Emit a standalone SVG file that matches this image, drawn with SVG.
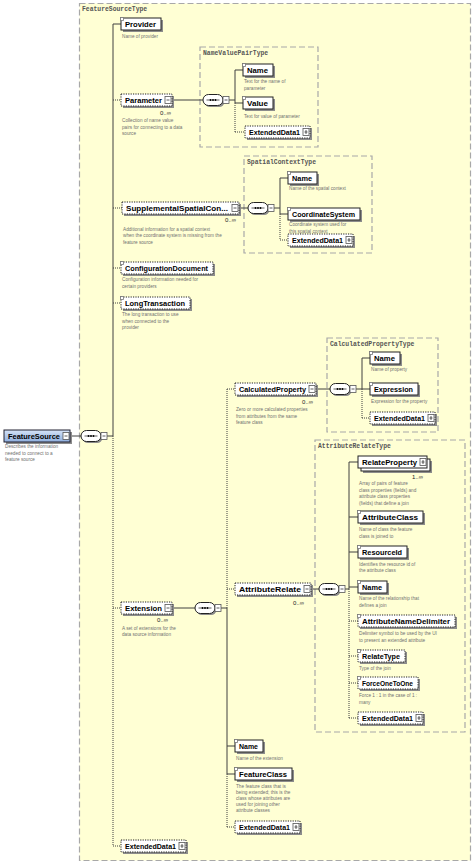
<svg xmlns="http://www.w3.org/2000/svg" xmlns:xlink="http://www.w3.org/1999/xlink" width="474" height="863" viewBox="0 0 474 863">
<style>
.t{fill:#FFFFD4;stroke:#A8A8A8;stroke-width:1.2;stroke-dasharray:6 3}
.t2{fill:none;stroke:#A8A8A8;stroke-width:1.2;stroke-dasharray:6 3}
.tl{font-family:"Liberation Mono",monospace;font-size:6.4px;fill:#555;font-weight:bold}
.sh{fill:#8c8c8c}
.b{fill:#fff;stroke:#222;stroke-width:1}
.o{fill:#fff;stroke:#222;stroke-width:1;stroke-dasharray:1.2 1.2}
.n{font-family:"Liberation Sans",Arial,sans-serif;font-size:7px;font-weight:bold;fill:#000}
.d{font-family:"Liberation Sans",Arial,sans-serif;font-size:4.7px;fill:#707070}
.m{font-family:"Liberation Sans",Arial,sans-serif;font-size:6px;fill:#222}
.ln{stroke:#404040;stroke-width:1;fill:none}
.dt{stroke:#404040;stroke-width:1;fill:none;stroke-dasharray:1 1}
.pm{fill:#fff;stroke:#555;stroke-width:0.8}
.pl{stroke:#333;stroke-width:0.8}
.ic{fill:#fff;stroke:#777;stroke-width:0.8}
</style>
<defs>
<linearGradient id="blue" x1="0" y1="0" x2="0" y2="1">
<stop offset="0" stop-color="#D6E4F8"/>
<stop offset="1" stop-color="#8EAEDD"/>
</linearGradient>
<g id="seq">
<rect x="1.5" y="-4" width="20" height="11" rx="5.5" class="sh"/>
<rect x="0" y="-5.5" width="20" height="11" rx="5.5" class="b"/>
<line x1="3.5" y1="0" x2="16.5" y2="0" class="pl"/>
<circle cx="7.5" cy="0" r="0.9" fill="#000"/>
<circle cx="10" cy="0" r="0.9" fill="#000"/>
<circle cx="12.5" cy="0" r="0.9" fill="#000"/>
<rect x="20" y="-3.5" width="6" height="7" class="pm"/>
<line x1="21.5" y1="0" x2="24.5" y2="0" class="pl"/>
</g>
<g id="mi">
<rect x="0" y="-3.5" width="6" height="7" class="pm"/>
<line x1="1.5" y1="0" x2="4.5" y2="0" class="pl"/>
</g>
<g id="pl">
<rect x="0" y="-3.5" width="6" height="7" class="pm"/>
<line x1="1.5" y1="0" x2="4.5" y2="0" class="pl"/>
<line x1="3" y1="-2" x2="3" y2="2" class="pl"/>
</g>
<g id="ic">
<rect x="0" y="0" width="3" height="3" class="ic"/>
</g>
</defs>

<g id="types">
<rect class="t" x="79.5" y="3.5" width="391" height="857"/>
<text class="tl" x="82" y="11">FeatureSourceType</text>
<rect class="t2" x="200" y="47" width="118" height="100"/>
<text class="tl" x="203" y="55">NameValuePairType</text>
<rect class="t2" x="244" y="156" width="128" height="97"/>
<text class="tl" x="247" y="164">SpatialContextType</text>
<rect class="t2" x="327" y="338" width="111" height="94"/>
<text class="tl" x="330" y="346">CalculatedPropertyType</text>
<rect class="t2" x="315" y="440" width="150" height="292"/>
<text class="tl" x="318" y="448">AttributeRelateType</text>
</g>

<g id="connectors">
<line class="ln" x1="70" y1="436" x2="81" y2="436"/>
<line class="ln" x1="107" y1="436" x2="113" y2="436"/>
<line class="ln" x1="113" y1="24" x2="113" y2="436"/>
<line class="dt" x1="113" y1="436" x2="113" y2="846"/>
<line class="ln" x1="113" y1="24" x2="121" y2="24"/>
<line class="dt" x1="113" y1="100" x2="121" y2="100"/>
<line class="dt" x1="113" y1="208" x2="122" y2="208"/>
<line class="dt" x1="113" y1="268" x2="121" y2="268"/>
<line class="dt" x1="113" y1="303" x2="121" y2="303"/>
<line class="dt" x1="113" y1="608" x2="121" y2="608"/>
<line class="dt" x1="113" y1="846" x2="121" y2="846"/>

<line class="ln" x1="172" y1="100" x2="203" y2="100"/>
<line class="ln" x1="229" y1="100" x2="235" y2="100"/>
<line class="ln" x1="235" y1="70" x2="235" y2="103"/>
<line class="dt" x1="235" y1="103" x2="235" y2="132"/>
<line class="ln" x1="235" y1="70" x2="243" y2="70"/>
<line class="ln" x1="235" y1="103" x2="243" y2="103"/>
<line class="dt" x1="235" y1="132" x2="245" y2="132"/>

<line class="ln" x1="239" y1="208" x2="248" y2="208"/>
<line class="ln" x1="274" y1="208" x2="280" y2="208"/>
<line class="ln" x1="280" y1="178" x2="280" y2="214"/>
<line class="dt" x1="280" y1="214" x2="280" y2="240"/>
<line class="ln" x1="280" y1="178" x2="288" y2="178"/>
<line class="ln" x1="280" y1="214" x2="288" y2="214"/>
<line class="dt" x1="280" y1="240" x2="288" y2="240"/>

<line class="ln" x1="172" y1="608" x2="195" y2="608"/>
<line class="ln" x1="221" y1="608" x2="227" y2="608"/>
<line class="dt" x1="227" y1="389" x2="227" y2="608"/>
<line class="ln" x1="227" y1="608" x2="227" y2="774"/>
<line class="dt" x1="227" y1="774" x2="227" y2="827"/>
<line class="dt" x1="227" y1="389" x2="235" y2="389"/>
<line class="dt" x1="227" y1="589" x2="235" y2="589"/>
<line class="ln" x1="227" y1="746" x2="235" y2="746"/>
<line class="ln" x1="227" y1="774" x2="235" y2="774"/>
<line class="dt" x1="227" y1="827" x2="235" y2="827"/>

<line class="ln" x1="316" y1="389" x2="330" y2="389"/>
<line class="ln" x1="356" y1="389" x2="362" y2="389"/>
<line class="ln" x1="362" y1="358" x2="362" y2="389"/>
<line class="dt" x1="362" y1="389" x2="362" y2="418"/>
<line class="ln" x1="362" y1="358" x2="370" y2="358"/>
<line class="ln" x1="362" y1="389" x2="370" y2="389"/>
<line class="dt" x1="362" y1="418" x2="370" y2="418"/>

<line class="ln" x1="311" y1="589" x2="319" y2="589"/>
<line class="ln" x1="345" y1="589" x2="349" y2="589"/>
<line class="ln" x1="349" y1="462" x2="349" y2="589"/>
<line class="dt" x1="349" y1="589" x2="349" y2="718"/>
<line class="ln" x1="349" y1="462" x2="358" y2="462"/>
<line class="ln" x1="349" y1="517" x2="358" y2="517"/>
<line class="ln" x1="349" y1="552" x2="358" y2="552"/>
<line class="ln" x1="349" y1="587" x2="358" y2="587"/>
<line class="dt" x1="349" y1="621" x2="358" y2="621"/>
<line class="dt" x1="349" y1="656" x2="358" y2="656"/>
<line class="dt" x1="349" y1="683" x2="358" y2="683"/>
<line class="dt" x1="349" y1="718" x2="358" y2="718"/>
</g>

<g id="compositors">
<use xlink:href="#seq" x="81" y="436"/>
<use xlink:href="#seq" x="203" y="100"/>
<use xlink:href="#seq" x="248" y="208"/>
<use xlink:href="#seq" x="195" y="608"/>
<use xlink:href="#seq" x="330" y="389"/>
<use xlink:href="#seq" x="319" y="589"/>
</g>

<g id="FeatureSource">
<rect class="sh" x="6" y="432" width="66" height="12"/>
<rect x="4" y="430" width="66" height="12" fill="url(#blue)" stroke="#223" stroke-width="1"/>
<use xlink:href="#mi" x="63" y="436"/>
<text class="n" x="8" y="438.5" textLength="52" lengthAdjust="spacingAndGlyphs" fill="#0a1a40">FeatureSource</text>
<text class="d" x="5" y="448">Describes the information</text>
<text class="d" x="5" y="454.5">needed to connect to a</text>
<text class="d" x="5" y="461">feature source</text>
</g>

<g id="Provider">
<rect class="sh" x="123" y="20" width="40" height="12"/>
<rect class="b" x="121" y="18" width="40" height="12"/>
<use xlink:href="#ic" x="120.5" y="17.5"/>
<text class="n" x="125" y="26.5" textLength="31" lengthAdjust="spacingAndGlyphs">Provider</text>
<text class="d" x="122" y="37.5">Name of provider</text>
</g>

<g id="Parameter">
<rect class="sh" x="123" y="96" width="51" height="12"/>
<rect class="o" x="121" y="94" width="51" height="12"/>
<use xlink:href="#mi" x="165" y="100"/>
<text class="n" x="125" y="102.5" textLength="37" lengthAdjust="spacingAndGlyphs">Parameter</text>
<text class="m" x="171" y="114.5" text-anchor="end">0..∞</text>
<text class="d" x="122" y="122">Collection of name value</text>
<text class="d" x="122" y="128.5">pairs for connecting to a data</text>
<text class="d" x="122" y="135">source</text>
</g>

<g id="NVP_Name">
<rect class="sh" x="245" y="66" width="30" height="12"/>
<rect class="b" x="243" y="64" width="30" height="12"/>
<use xlink:href="#ic" x="242.5" y="63.5"/>
<text class="n" x="247" y="72.5" textLength="21" lengthAdjust="spacingAndGlyphs">Name</text>
<text class="d" x="244" y="83">Text for the name of</text>
<text class="d" x="244" y="89.5">parameter</text>
</g>

<g id="NVP_Value">
<rect class="sh" x="245" y="99" width="30" height="12"/>
<rect class="b" x="243" y="97" width="30" height="12"/>
<use xlink:href="#ic" x="242.5" y="96.5"/>
<text class="n" x="247" y="105.5" textLength="21" lengthAdjust="spacingAndGlyphs">Value</text>
<text class="d" x="244" y="117.5">Text for value of parameter</text>
</g>

<g id="NVP_ExtendedData1">
<rect class="sh" x="247" y="128" width="65" height="12"/>
<rect class="o" x="245" y="126" width="65" height="12"/>
<use xlink:href="#pl" x="303" y="132"/>
<text class="n" x="249" y="134.5" textLength="51" lengthAdjust="spacingAndGlyphs">ExtendedData1</text>
</g>

<g id="SupplementalSpatialContextInfo">
<rect class="sh" x="124" y="204" width="117" height="12"/>
<rect class="o" x="122" y="202" width="117" height="12"/>
<use xlink:href="#mi" x="232" y="208"/>
<text class="n" x="126" y="210.5" textLength="102" lengthAdjust="spacingAndGlyphs">SupplementalSpatialCon...</text>
<text class="m" x="236" y="222" text-anchor="end">0..∞</text>
<text class="d" x="123" y="230.5">Additional information for a spatial context</text>
<text class="d" x="123" y="237">when the coordinate system is missing from the</text>
<text class="d" x="123" y="243.5">feature source</text>
</g>

<g id="SC_Name">
<rect class="sh" x="290" y="174" width="29" height="12"/>
<rect class="b" x="288" y="172" width="29" height="12"/>
<use xlink:href="#ic" x="287.5" y="171.5"/>
<text class="n" x="292" y="180.5" textLength="20" lengthAdjust="spacingAndGlyphs">Name</text>
<text class="d" x="289" y="190">Name of the spatial context</text>
</g>

<g id="SC_CoordinateSystem">
<rect class="sh" x="290" y="210" width="72" height="12"/>
<rect class="b" x="288" y="208" width="72" height="12"/>
<use xlink:href="#ic" x="287.5" y="207.5"/>
<text class="n" x="292" y="216.5" textLength="63" lengthAdjust="spacingAndGlyphs">CoordinateSystem</text>
<text class="d" x="289" y="226">Coordinate system used for</text>
<text class="d" x="289" y="232.5">this spatial context</text>
</g>

<g id="SC_ExtendedData1">
<rect class="sh" x="290" y="236" width="65" height="12"/>
<rect class="o" x="288" y="234" width="65" height="12"/>
<use xlink:href="#pl" x="346" y="240"/>
<text class="n" x="292" y="242.5" textLength="51" lengthAdjust="spacingAndGlyphs">ExtendedData1</text>
</g>

<g id="ConfigurationDocument">
<rect class="sh" x="123" y="264" width="92" height="12"/>
<rect class="o" x="121" y="262" width="92" height="12"/>
<use xlink:href="#ic" x="120.5" y="261.5"/>
<text class="n" x="125" y="270.5" textLength="83" lengthAdjust="spacingAndGlyphs">ConfigurationDocument</text>
<text class="d" x="122" y="281">Configuration information needed for</text>
<text class="d" x="122" y="287.5">certain providers</text>
</g>

<g id="LongTransaction">
<rect class="sh" x="123" y="299" width="69" height="12"/>
<rect class="o" x="121" y="297" width="69" height="12"/>
<use xlink:href="#ic" x="120.5" y="296.5"/>
<text class="n" x="125" y="305.5" textLength="60" lengthAdjust="spacingAndGlyphs">LongTransaction</text>
<text class="d" x="122" y="316">The long transaction to use</text>
<text class="d" x="122" y="322.5">when connected to the</text>
<text class="d" x="122" y="329">provider</text>
</g>

<g id="Extension">
<rect class="sh" x="123" y="604" width="51" height="12"/>
<rect class="o" x="121" y="602" width="51" height="12"/>
<use xlink:href="#mi" x="165" y="608"/>
<text class="n" x="125" y="610.5" textLength="37" lengthAdjust="spacingAndGlyphs">Extension</text>
<text class="m" x="168" y="622" text-anchor="end">0..∞</text>
<text class="d" x="122" y="629.5">A set of extensions for the</text>
<text class="d" x="122" y="636">data source information</text>
</g>

<g id="CalculatedProperty">
<rect class="sh" x="237" y="385" width="81" height="12"/>
<rect class="o" x="235" y="383" width="81" height="12"/>
<use xlink:href="#mi" x="309" y="389"/>
<text class="n" x="239" y="391.5" textLength="67" lengthAdjust="spacingAndGlyphs">CalculatedProperty</text>
<text class="m" x="313" y="404" text-anchor="end">0..∞</text>
<text class="d" x="236" y="411">Zero or more calculated properties</text>
<text class="d" x="236" y="417.5">from attributes from the same</text>
<text class="d" x="236" y="424">feature class</text>
</g>

<g id="CP_Name">
<rect class="sh" x="372" y="354" width="30" height="12"/>
<rect class="b" x="370" y="352" width="30" height="12"/>
<use xlink:href="#ic" x="369.5" y="351.5"/>
<text class="n" x="374" y="360.5" textLength="21" lengthAdjust="spacingAndGlyphs">Name</text>
<text class="d" x="371" y="371">Name of property</text>
</g>

<g id="CP_Expression">
<rect class="sh" x="372" y="385" width="48" height="12"/>
<rect class="b" x="370" y="383" width="48" height="12"/>
<use xlink:href="#ic" x="369.5" y="382.5"/>
<text class="n" x="374" y="391.5" textLength="39" lengthAdjust="spacingAndGlyphs">Expression</text>
<text class="d" x="371" y="403">Expression for the property</text>
</g>

<g id="CP_ExtendedData1">
<rect class="sh" x="372" y="414" width="65" height="12"/>
<rect class="o" x="370" y="412" width="65" height="12"/>
<use xlink:href="#pl" x="428" y="418"/>
<text class="n" x="374" y="420.5" textLength="51" lengthAdjust="spacingAndGlyphs">ExtendedData1</text>
</g>

<g id="AttributeRelate">
<rect class="sh" x="237" y="585" width="76" height="12"/>
<rect class="o" x="235" y="583" width="76" height="12"/>
<use xlink:href="#mi" x="304" y="589"/>
<text class="n" x="239" y="591.5" textLength="62" lengthAdjust="spacingAndGlyphs">AttributeRelate</text>
<text class="m" x="304" y="605" text-anchor="end">0..∞</text>
</g>

<g id="AR_RelateProperty">
<rect class="sh" x="363" y="461" width="69" height="12"/>
<rect class="b" x="361" y="459" width="69" height="12"/>
<rect class="b" x="358" y="456" width="69" height="12"/>
<use xlink:href="#pl" x="420" y="462"/>
<text class="n" x="362" y="464.5" textLength="55" lengthAdjust="spacingAndGlyphs">RelateProperty</text>
<text class="m" x="423" y="479" text-anchor="end">1..∞</text>
<text class="d" x="359" y="485">Array of pairs of feature</text>
<text class="d" x="359" y="491.5">class properties (fields) and</text>
<text class="d" x="359" y="498">attribute class properties</text>
<text class="d" x="359" y="504.5">(fields) that define a join</text>
</g>

<g id="AR_AttributeClass">
<rect class="sh" x="360" y="513" width="65" height="12"/>
<rect class="b" x="358" y="511" width="65" height="12"/>
<use xlink:href="#ic" x="357.5" y="510.5"/>
<text class="n" x="362" y="519.5" textLength="56" lengthAdjust="spacingAndGlyphs">AttributeClass</text>
<text class="d" x="359" y="531">Name of class the feature</text>
<text class="d" x="359" y="537.5">class is joined to</text>
</g>

<g id="AR_ResourceId">
<rect class="sh" x="360" y="548" width="49" height="12"/>
<rect class="b" x="358" y="546" width="49" height="12"/>
<use xlink:href="#ic" x="357.5" y="545.5"/>
<text class="n" x="362" y="554.5" textLength="40" lengthAdjust="spacingAndGlyphs">ResourceId</text>
<text class="d" x="359" y="565.5">Identifies the resource id of</text>
<text class="d" x="359" y="572">the attribute class</text>
</g>

<g id="AR_Name">
<rect class="sh" x="360" y="583" width="29" height="12"/>
<rect class="b" x="358" y="581" width="29" height="12"/>
<use xlink:href="#ic" x="357.5" y="580.5"/>
<text class="n" x="362" y="589.5" textLength="20" lengthAdjust="spacingAndGlyphs">Name</text>
<text class="d" x="359" y="600">Name of the relationship that</text>
<text class="d" x="359" y="606.5">defines a join</text>
</g>

<g id="AR_AttributeNameDelimiter">
<rect class="sh" x="360" y="617" width="97" height="12"/>
<rect class="o" x="358" y="615" width="97" height="12"/>
<use xlink:href="#ic" x="357.5" y="614.5"/>
<text class="n" x="362" y="623.5" textLength="88" lengthAdjust="spacingAndGlyphs">AttributeNameDelimiter</text>
<text class="d" x="359" y="635">Delimiter symbol to be used by the UI</text>
<text class="d" x="359" y="641.5">to present an extended attribute</text>
</g>

<g id="AR_RelateType">
<rect class="sh" x="360" y="652" width="47" height="12"/>
<rect class="o" x="358" y="650" width="47" height="12"/>
<use xlink:href="#ic" x="357.5" y="649.5"/>
<text class="n" x="362" y="658.5" textLength="38" lengthAdjust="spacingAndGlyphs">RelateType</text>
<text class="d" x="359" y="670">Type of the join</text>
</g>

<g id="AR_ForceOneToOne">
<rect class="sh" x="360" y="679" width="60" height="12"/>
<rect class="o" x="358" y="677" width="60" height="12"/>
<use xlink:href="#ic" x="357.5" y="676.5"/>
<text class="n" x="362" y="685.5" textLength="51" lengthAdjust="spacingAndGlyphs">ForceOneToOne</text>
<text class="d" x="359" y="697">Force 1 : 1 in the case of 1 :</text>
<text class="d" x="359" y="703.5">many</text>
</g>

<g id="AR_ExtendedData1">
<rect class="sh" x="360" y="714" width="65" height="12"/>
<rect class="o" x="358" y="712" width="65" height="12"/>
<use xlink:href="#pl" x="416" y="718"/>
<text class="n" x="362" y="720.5" textLength="51" lengthAdjust="spacingAndGlyphs">ExtendedData1</text>
</g>

<g id="Ext_Name">
<rect class="sh" x="237" y="742" width="28" height="12"/>
<rect class="b" x="235" y="740" width="28" height="12"/>
<use xlink:href="#ic" x="234.5" y="739.5"/>
<text class="n" x="239" y="748.5" textLength="19" lengthAdjust="spacingAndGlyphs">Name</text>
<text class="d" x="236" y="759.5">Name of the extension</text>
</g>

<g id="Ext_FeatureClass">
<rect class="sh" x="237" y="770" width="57" height="12"/>
<rect class="b" x="235" y="768" width="57" height="12"/>
<use xlink:href="#ic" x="234.5" y="767.5"/>
<text class="n" x="239" y="776.5" textLength="48" lengthAdjust="spacingAndGlyphs">FeatureClass</text>
<text class="d" x="236" y="788">The feature class that is</text>
<text class="d" x="236" y="794">being extended; this is the</text>
<text class="d" x="236" y="800">class whose attributes are</text>
<text class="d" x="236" y="806">used for joining other</text>
<text class="d" x="236" y="812">attribute classes</text>
</g>

<g id="Ext_ExtendedData1">
<rect class="sh" x="237" y="823" width="65" height="12"/>
<rect class="o" x="235" y="821" width="65" height="12"/>
<use xlink:href="#pl" x="293" y="827"/>
<text class="n" x="239" y="829.5" textLength="51" lengthAdjust="spacingAndGlyphs">ExtendedData1</text>
</g>

<g id="ExtendedData1">
<rect class="sh" x="123" y="842" width="65" height="12"/>
<rect class="o" x="121" y="840" width="65" height="12"/>
<use xlink:href="#pl" x="179" y="846"/>
<text class="n" x="125" y="848.5" textLength="51" lengthAdjust="spacingAndGlyphs">ExtendedData1</text>
</g>
</svg>
